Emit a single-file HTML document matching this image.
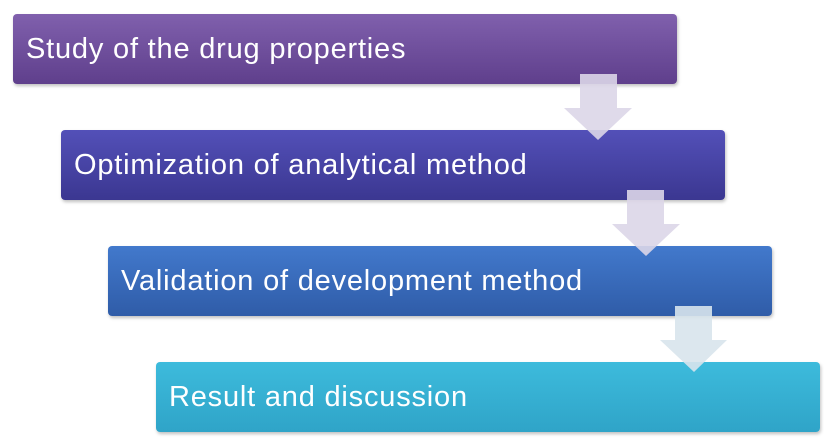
<!DOCTYPE html>
<html><head><style>
body{margin:0;width:824px;height:445px;background:#fff;position:relative;overflow:hidden;font-family:"Liberation Sans",sans-serif}
.b{position:absolute;width:664px;height:70px;border-radius:4px;color:#fff;font-size:29px;letter-spacing:0.8px;line-height:70px;padding-left:13px;box-sizing:border-box;box-shadow:1px 2px 3px rgba(0,0,0,.25)}
svg{position:absolute;left:0;top:0}
</style></head><body>
<div class="b" style="left:13px;top:14px;background:linear-gradient(#8060ad,#5f3f8c)">Study of the drug properties</div>
<div class="b" style="left:61px;top:130px;background:linear-gradient(#5350b8,#3b3791)">Optimization of analytical method</div>
<div class="b" style="left:108px;top:246px;background:linear-gradient(#4279cc,#2f5ca8)">Validation of development method</div>
<div class="b" style="left:156px;top:362px;background:linear-gradient(#3dbbdc,#2fa4c8)">Result and discussion</div>
<svg width="824" height="445">
<g fill="#dcd6e8" fill-opacity="0.9">
<polygon points="580,74 617,74 617,108 632,108 598,140 564,108 580,108"/>
<polygon points="627,190 664,190 664,224 680,224 646,256 612,224 627,224"/>
<polygon points="675,306 712,306 712,340 727,340 694,372 660,340 675,340" fill="#d8e4ec"/>
</g>
</svg>
</body></html>
